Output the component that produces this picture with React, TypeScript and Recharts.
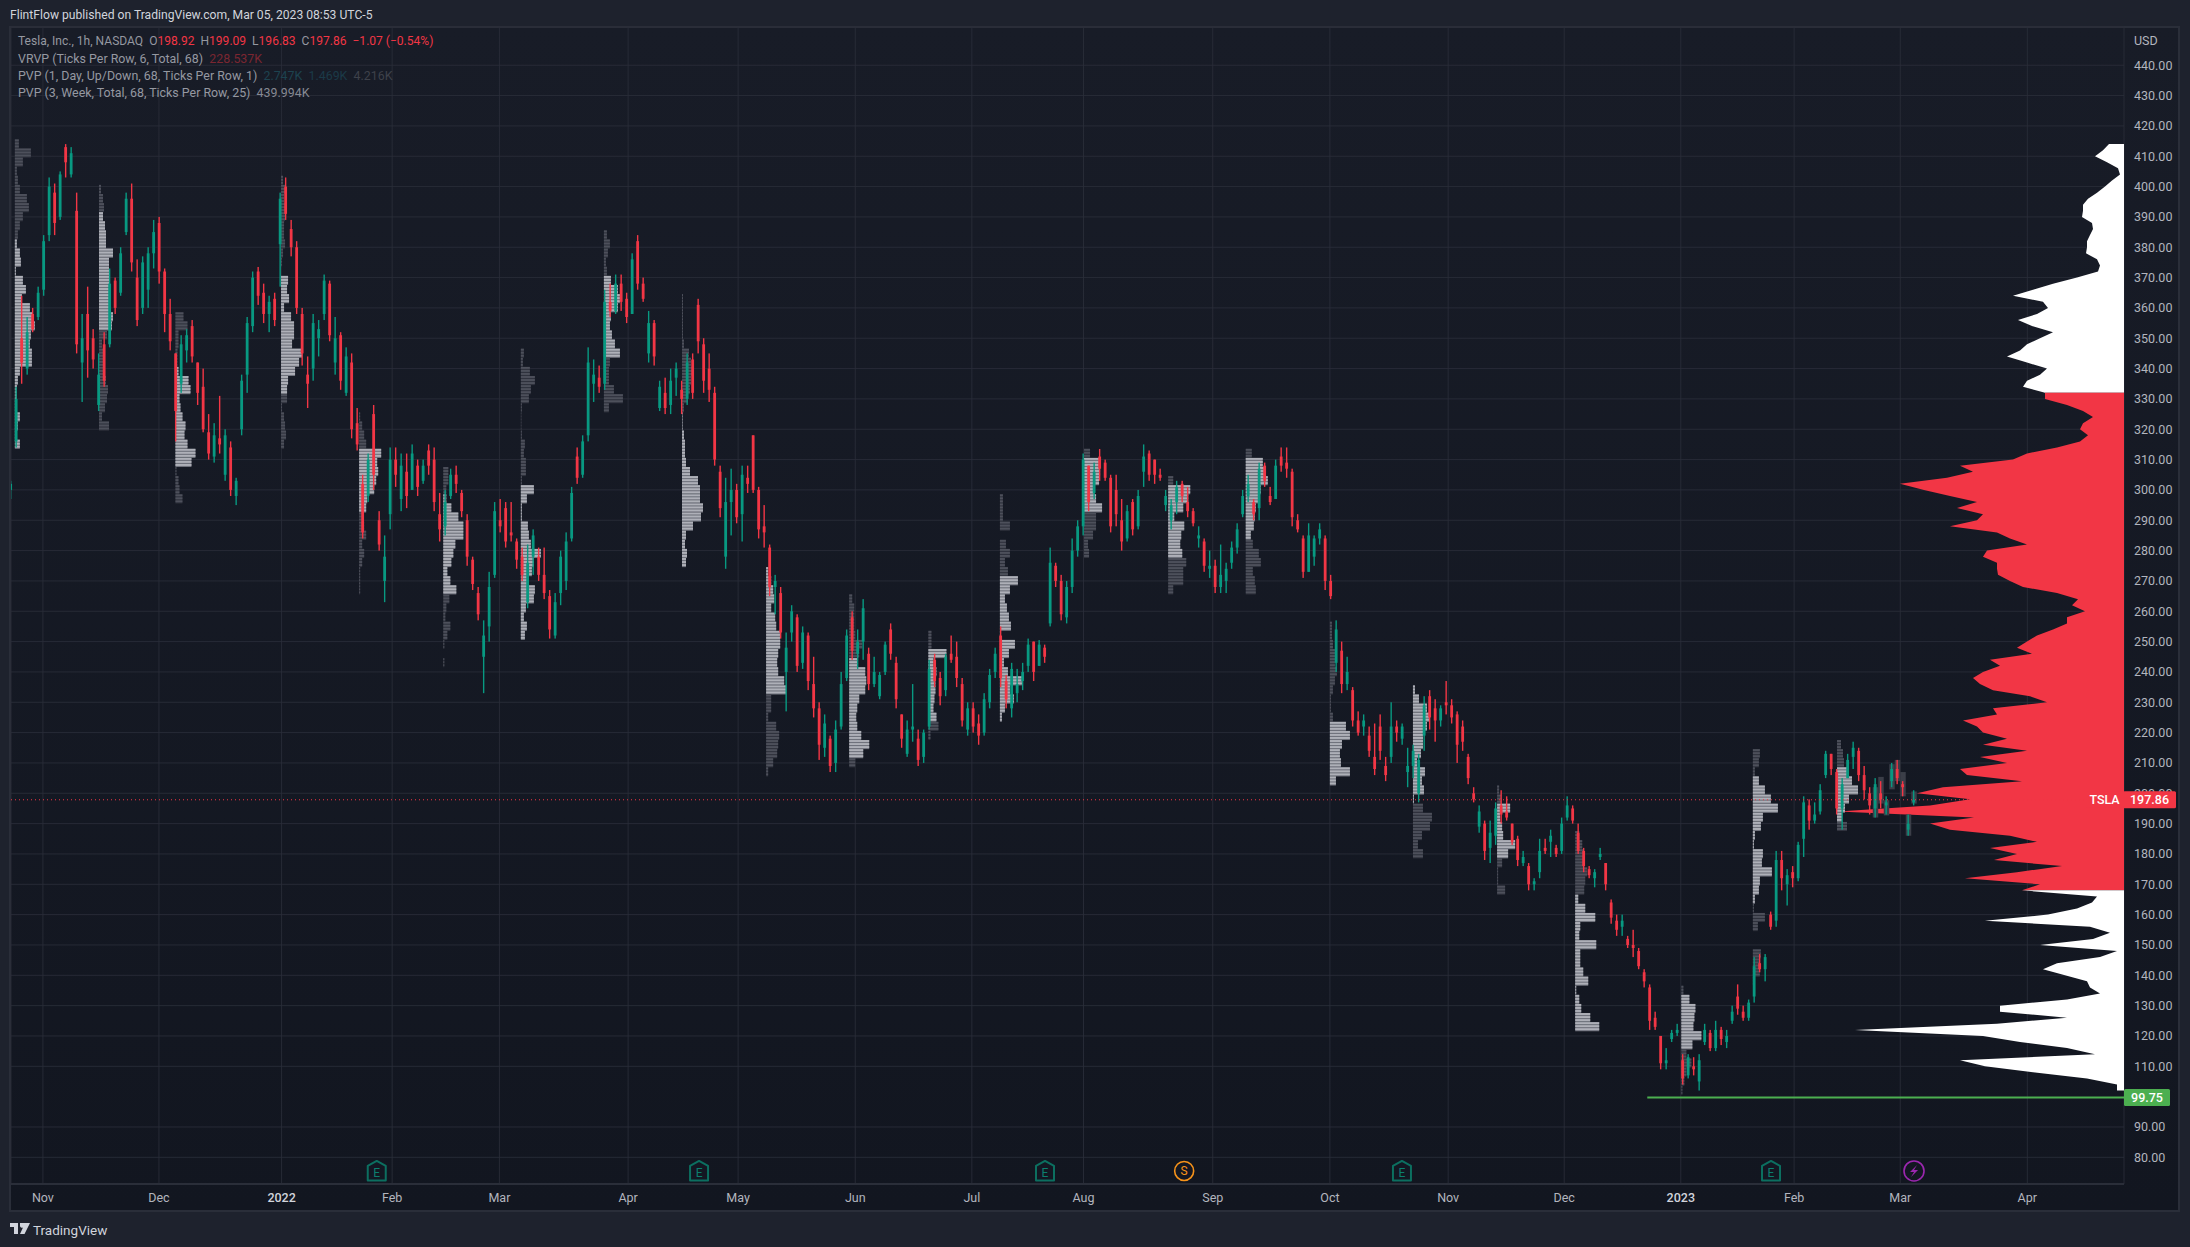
// App.tsx - TSLA 1h chart with volume profiles
import React from 'react';
import {
  ComposedChart,
  Bar,
  Area,
  XAxis,
  YAxis,
  CartesianGrid,
  ReferenceLine,
  ReferenceDot,
} from 'recharts';

const WIDTH = 2190;
const HEIGHT = 1247;
const PLOT_MARGIN = { top: 27, left: 11, right: 66, bottom: 63 };
const PRICE_DOMAIN: [number, number] = [71.2, 452.6];
const SESSION_DOMAIN: [number, number] = [0, 384.18];
const PX_PER_SESSION = 5.5;
const PVP_ROW_PX = 9.1;

const priceTicks = [80, 90, 110, 120, 130, 140, 150, 160, 170, 180, 190, 200, 210, 220, 230, 240, 250, 260, 270, 280, 290, 300, 310, 320, 330, 340, 350, 360, 370, 380, 390, 400, 410, 420, 430, 440];
const monthTicks = [5.8, 26.9, 49.2, 69.3, 88.8, 112.2, 132.2, 153.5, 174.7, 195, 218.5, 239.8, 261.3, 282.4, 303.6, 324.2, 343.5, 366.6];
const monthLabels = ['Nov', 'Dec', '2022', 'Feb', 'Mar', 'Apr', 'May', 'Jun', 'Jul', 'Aug', 'Sep', 'Oct', 'Nov', 'Dec', '2023', 'Feb', 'Mar', 'Apr'];

const opens = [
  300, 316, 350, 340, 358, 357, 366, 384, 398, 390,
  413, 404, 392, 342, 358, 350, 328, 348, 348, 369,
  365, 385, 396, 370, 360, 366, 378, 388, 372, 358,
  345, 335, 346, 354, 342, 334, 319, 311, 317, 305,
  314, 298, 320, 338, 354, 372, 365, 358, 363, 381,
  400, 386, 380, 358, 338, 340, 350, 358, 368, 342,
  351, 332, 342, 322, 302, 298, 325, 290, 270, 292,
  310, 297, 306, 300, 308, 303, 313, 310, 292, 288,
  298, 305, 299, 290, 277, 266, 245, 255, 272, 290,
  294, 286, 283, 278, 263, 278, 278, 272, 265, 252,
  266, 270, 284, 311, 305, 318, 335, 337, 335, 362,
  359, 368, 363, 358, 382, 368, 345, 355, 327, 332,
  328, 337, 333, 330, 343, 361, 348, 340, 332, 306,
  278, 296, 300, 292, 304, 318, 300, 288, 281, 268,
  266, 240, 253, 258, 243, 252, 236, 228, 215, 218,
  210, 222, 238, 258, 246, 250, 246, 236, 232, 240,
  254, 243, 226, 213, 221, 218, 212, 222, 244, 238,
  234, 246, 245, 236, 221, 228, 223, 220, 230, 240,
  252, 237, 228, 233, 237, 242, 250, 242, 248, 256,
  275, 270, 258, 268, 280, 288, 308, 299, 311, 309,
  304, 300, 290, 284, 296, 288, 306, 312, 310, 305,
  295, 290, 296, 302, 296, 293, 284, 283, 274, 275,
  268, 270, 276, 281, 292, 298, 296, 294, 308, 298,
  297, 311, 309, 306, 290, 284, 273, 278, 284, 284,
  270, 243, 247, 236, 234, 224, 222, 219, 212, 222,
  209, 212, 222, 218, 207, 209, 200, 219, 232, 228,
  224, 230, 229, 226, 222, 212, 200, 189, 190, 182,
  186, 196, 194, 190, 185, 177, 176, 170, 174, 182,
  184, 182, 181, 192, 195, 187, 181, 175, 172, 179,
  177, 164, 158, 156, 152, 150, 148, 141, 136, 126,
  120, 111, 119, 121, 112, 107, 110, 105, 118, 121,
  116, 122, 118, 125, 133, 128, 126, 133, 144, 142,
  160, 158, 178, 170, 174, 172, 185, 196, 191, 194,
  206, 213, 207, 195, 205, 212, 214, 206, 200, 195,
  200, 196, 204, 208, 203, 188, 197,
];
const highs = [
  303, 334, 364, 357, 360, 367, 384, 403, 401, 405,
  414, 413, 398, 358, 367, 353, 345, 352, 373, 370,
  380, 398, 401, 376, 377, 380, 389, 390, 373, 363,
  345, 351, 353, 356, 342, 340, 325, 322, 331, 320,
  316, 304, 338, 357, 372, 373.5, 368, 364, 365, 398,
  403, 389, 382, 360, 344, 358, 356, 371, 369, 357,
  352, 347, 345, 327, 305, 312, 328, 293, 285, 314,
  314, 312, 312, 315, 310, 310, 315, 314, 299, 300,
  307, 308, 300, 292, 278, 268, 257, 273, 296, 297,
  296, 296, 284, 281, 282, 287, 281, 281, 267, 266,
  280, 286, 301, 314, 318, 347, 343, 341, 366, 368,
  371, 371, 365, 378, 384, 370, 359, 356, 336, 337,
  340, 342, 336, 345, 345, 363, 350, 345, 334, 308,
  304, 307, 302, 308, 308, 318, 301, 295, 282, 272,
  268, 253, 262, 259, 255, 253, 245, 230, 226, 219,
  224, 240, 254, 260, 254, 264, 248, 245, 240, 250,
  256, 245, 226, 224, 236, 221, 221, 244, 246, 240,
  246, 252, 250, 238, 230, 230, 226, 233, 241, 248,
  255, 239, 243, 241, 243, 251, 250, 250.5, 249, 281,
  276, 272, 270, 284, 290, 312, 308, 309, 313.5, 310,
  305, 305, 297, 295, 297, 300, 315, 313, 310, 307,
  300, 297, 303, 303, 301, 294, 288, 284, 280, 277,
  282, 276, 283, 289, 300, 305, 297, 309, 309, 301,
  310, 314, 314, 307, 292, 285, 289, 285, 289, 285,
  272, 257, 250, 245, 235, 227, 226, 222, 223, 226,
  212, 230, 224, 223, 215, 216, 213, 232, 234, 231,
  229, 237, 231, 227, 224, 213, 202, 196, 191, 191,
  197, 201, 199, 190, 186, 181, 177, 172, 185, 185,
  188, 183, 192, 199, 196, 190, 182, 176, 175, 182,
  177, 165, 160, 160, 153, 155, 149, 142, 137, 128,
  120, 116, 122, 124, 114, 114, 113, 114, 124, 122,
  125, 123, 122, 130, 137, 130, 132, 146, 147, 147,
  161, 181, 181, 175, 176, 184, 199, 198, 197, 203,
  214, 213, 208, 205, 213, 217, 215, 209, 202, 205,
  204, 199, 210, 211, 204, 193, 201,
];
const lows = [
  297, 314, 335, 338, 352, 356, 364, 382, 384, 389,
  403, 403, 345, 329, 337, 340, 326, 334, 347, 358,
  364, 384, 372, 354, 358, 360, 373, 368, 352, 346,
  316, 332, 342, 342, 328, 319, 310, 309, 312, 303,
  298, 295, 318, 332, 352, 361, 355, 352, 354, 367,
  389, 377, 358, 341, 327, 336, 344, 356, 349, 338,
  333, 331, 317, 313, 284, 296, 300, 280, 263, 287,
  301, 293, 294, 300, 298, 302, 305, 293, 283, 285,
  297, 299, 291, 275, 267, 257, 233, 250, 271, 286,
  281, 283, 274, 270, 261, 272, 270, 264, 251, 251,
  262, 267, 283, 302, 304, 316, 329, 332, 333, 357,
  358, 359, 355, 358, 366, 362, 342, 341, 326, 325,
  325, 331, 325, 328, 330, 345, 332, 329, 308, 291,
  274, 285, 289, 283, 299, 299, 284, 281, 265, 259,
  251, 227, 250, 240, 241, 234, 225, 211, 212, 207,
  207, 221, 237, 244, 241, 244, 234, 235, 231, 239,
  244, 228, 215, 212, 217, 209, 210, 221, 235, 229,
  232, 243, 235, 222, 219, 220, 216, 219, 228, 238,
  235, 228, 225, 230, 234, 240, 237, 242, 243, 255,
  268, 257, 256, 266, 278, 285, 293, 297, 303, 303,
  286, 288, 280, 283, 285, 287, 301, 303, 302, 303,
  293, 287, 292, 296, 291, 288, 281, 273, 271, 266,
  266, 266, 274, 279, 291, 296, 290, 290, 301, 295,
  297, 306, 304, 288, 286, 271, 273, 275, 282, 267,
  264, 240, 233, 234, 222, 219, 219, 212, 206, 211,
  204, 210, 217, 216, 202, 205, 197, 214, 221, 217,
  222, 226, 223, 210, 214, 203, 197, 187, 178, 177,
  183, 190, 191, 183, 176, 176, 168, 168, 172, 180,
  179, 179, 180, 191, 190, 180, 174, 172, 169, 178,
  168, 157, 153, 153, 149, 146, 142, 136, 122, 122,
  109, 109, 118, 120, 104, 106, 107, 102, 117, 115,
  115, 117, 116, 124, 127, 125, 125, 131, 141, 138,
  155, 156, 168, 163, 169, 171, 179, 188, 190, 193,
  205, 206, 193, 188, 205, 208, 204, 198, 193, 192,
  195, 193, 202, 203, 199, 186, 196,
];
const closes = [
  302, 330, 342, 352, 353, 365, 382, 400, 388, 404,
  408, 411, 348, 350, 346, 343, 338, 336, 368, 360,
  378, 396, 375, 356, 375, 378, 385, 372, 358, 349,
  326, 348, 351, 344, 332, 320, 312, 318, 315, 318,
  300, 303, 336, 355, 370, 364, 358, 362, 356, 396,
  391, 380, 360, 345, 335, 355, 353, 369, 351, 350,
  336, 344, 320, 315, 286, 310, 305, 282, 278, 310,
  305, 308, 298, 312, 301, 308, 308, 296, 287, 296,
  305, 302, 293, 278, 269, 259, 252, 268, 293, 288,
  283, 285, 277, 272, 276, 285, 272, 266, 254, 263,
  278, 283, 299, 304, 316, 342, 338, 334, 362, 359,
  368, 362, 357, 376, 368, 363, 355, 344, 334, 327,
  336, 340, 330, 342, 332, 349, 336, 333, 310, 294,
  296, 300, 291, 305, 302, 300, 287, 286, 268, 270,
  253, 248, 260, 242, 253, 237, 228, 216, 223, 209,
  221, 236, 252, 247, 250, 261, 236, 240, 239, 249,
  246, 231, 218, 221, 222, 211, 220, 241, 237, 232,
  245, 244, 238, 224, 228, 222, 219, 231, 239, 246,
  238, 231, 241, 236, 240, 249, 240, 249, 245, 276,
  270, 259, 268, 280, 288, 310, 296, 306, 307, 304,
  288, 292, 283, 293, 287, 298, 311, 305, 305, 304,
  298, 295, 301, 298, 293, 289, 285, 275, 275, 268,
  272, 274, 281, 287, 298, 302, 292, 307, 303, 296,
  308, 308, 307, 291, 287, 273, 285, 284, 287, 270,
  265, 254, 236, 240, 224, 220, 224, 214, 208, 214,
  206, 222, 220, 222, 209, 214, 211, 229, 225, 224,
  228, 229, 225, 216, 217, 205, 198, 194, 181, 187,
  195, 193, 192, 184, 178, 179, 170, 171, 181, 181,
  186, 180, 190, 196, 191, 181, 176, 173, 174, 180,
  170, 159, 155, 158, 150, 149, 143, 138, 125, 123,
  111, 112, 121, 122, 106, 113, 109, 112, 122, 116,
  122, 119, 120, 128, 129, 126, 131, 143, 142, 146,
  156, 178, 172, 173, 172, 183, 197, 191, 193, 201,
  213, 208, 195, 203, 211, 215, 206, 201, 196, 203,
  198, 197, 208, 205, 202, 190, 197.86,
];

// last few day profiles, the grey boxes behind the newest candles
const dayBoxSessions = [339, 340, 341, 342, 343, 344, 345, 346];
const dayBoxLows = [192, 196.6, 192.7, 201.3, 204, 199, 186, 196.6];
const dayBoxHighs = [202, 205.4, 197.7, 209.6, 211, 207, 193, 200.6];

// 3 week PVP profiles: start session, top row, value area, row widths (px) every $3
const pvpStarts = [0.7, 16, 29.9, 49.1, 63.3, 78.6, 92.7, 107.8, 122, 137.3, 152.4, 166.8, 179.8, 195.1, 210.4, 224.5, 239.8, 254.9, 270.2, 284.4, 303.7, 316.7, 316.7, 332];
const pvpTops = [414, 399, 357, 402, 324, 306, 345, 384, 363, 273, 264, 252, 297, 312, 303, 312, 255, 234, 201, 186, 135, 213, 147, 216];
const pvpValueHighs = [383, 391, 340, 371, 314, 298, 302, 371, 326, 273, 244, 247, 270, 310, 301, 310, 223, 234, 197, 165, 134, 205, 0, 208];
const pvpValueLows = [314, 352, 309, 331, 294, 267, 250, 344, 275, 232, 212, 224, 225, 292, 277, 284, 204, 197, 178, 123, 116, 163, 0, 191];
const pvpWidths = [
  [4, 16, 8, 2, 3, 5, 12, 14, 8, 5, 3, 2, 5, 6, 1, 8, 11, 7, 15, 18, 20, 16, 15, 17, 17, 5, 3, 2, 2, 2, 5, 3, 2, 5],
  [2, 4, 5, 4, 6, 7, 7, 14, 10, 10, 11, 12, 12, 12, 14, 13, 8, 3, 4, 6, 6, 7, 9, 8, 6, 3, 10],
  [8, 12, 3, 3, 2, 2, 3, 13, 15, 4, 5, 7, 10, 9, 12, 20, 16, 1, 3, 4, 7],
  [2, 5, 3, 5, 4, 3, 3, 4, 2, 1, 0, 7, 6, 8, 3, 10, 13, 13, 11, 21, 18, 14, 7, 6, 6, 1, 3, 4, 5, 3],
  [1, 3, 5, 7, 22, 18, 19, 17, 15, 8, 7, 3, 5, 7, 3, 5, 3, 1, 1, 1],
  [5, 5, 3, 3, 8, 15, 20, 20, 12, 10, 8, 4, 7, 13, 6, 3, 2, 7, 4, 1, 0, 1],
  [3, 2, 9, 14, 10, 8, 1, 0.5, 0.5, 1, 4, 3, 5, 5, 1, 13, 6, 1, 1, 7, 8, 10, 20, 13, 11, 8, 14, 13, 5, 3, 6, 4],
  [3, 6, 4, 2, 3, 7, 14, 16, 14, 7, 6, 8, 11, 16, 6, 5, 5, 10, 19, 5],
  [1, 1, 1, 1, 1, 2, 7, 9, 11, 9, 8, 6, 2, 0.5, 0.5, 2, 3, 3, 4, 8, 16, 18, 18, 21, 19, 11, 4, 3, 5, 4],
  [2, 5, 7, 8, 5, 9, 10, 14, 14, 12, 11, 12, 18, 20, 5, 5, 2, 10, 13, 12, 11, 7, 2],
  [3, 5, 5, 5, 6, 13, 10, 8, 16, 17, 16, 10, 8, 7, 8, 12, 20, 14, 6],
  [3, 3, 18, 5, 8, 7, 7, 6, 5, 8, 10, 2],
  [3, 3, 3, 10, 0, 6, 10, 5, 8, 18, 10, 5, 7, 9, 11, 0.5, 15, 9, 4, 8, 22, 10, 14, 5, 2],
  [6, 15, 16, 15, 10, 12, 18, 12, 12, 9, 4, 5],
  [5, 22, 20, 15, 6, 16, 13, 12, 14, 18, 15, 15, 5],
  [6, 17, 20, 22, 15, 14, 10, 9, 8, 5, 7, 13, 15, 7, 9, 10],
  [2, 2, 3, 5, 5, 7, 5, 3, 1, 1, 3, 16, 20, 12, 10, 11, 20, 6],
  [2, 6, 14, 16, 14, 10, 10, 8, 4, 12, 9, 11, 1, 10, 19, 17, 9, 5, 10],
  [2, 4, 13, 3, 5, 6, 18, 11, 5, 1, 1, 8],
  [4, 7, 8, 9, 12, 10, 9, 3, 10, 20, 5, 4, 21, 5, 5, 8, 13, 1, 4, 6, 15, 24],
  [2, 8, 14, 13, 12, 20, 11, 5, 10, 5, 3, 1],
  [7, 6, 2, 6, 12, 18, 25, 10, 8, 2, 1, 10, 9, 19, 7, 6, 2, 1, 12, 5],
  [8, 7, 7, 2],
  [4, 6, 7, 10, 15, 21, 12, 8, 5, 10],
];

// VRVP row widths (px from the right edge), one row every $2 from $414 down
const vrvpTop = 414;
const vrvpWidths = [
  15, 21, 29, 17, 6, 4, 12, 19, 27, 36, 41, 41, 42, 32, 31, 34, 37, 37, 38, 27, 24, 26,
  47, 71, 91, 111, 81, 76, 87, 106, 92, 71, 84, 97, 104, 117, 97, 77, 84, 97, 101, 79,
  79, 57, 41, 31, 41, 44, 36, 44, 67, 97, 111, 164, 151, 177, 224, 200, 174, 147, 167, 141,
  147, 174, 127, 114, 97, 137, 141, 127, 127, 126, 114, 101, 67, 46, 52, 39, 57, 57, 71, 87,
  97, 107, 92, 134, 124, 141, 151, 144, 131, 94, 77, 131, 127, 161, 147, 141, 117, 141, 97, 144,
  117, 164, 157, 102, 181, 207, 154, 194, 286, 150, 194, 174, 114, 87, 134, 107, 130, 62, 107, 159,
  84, 102, 27, 32, 47, 76, 139, 34, 14, 31, 84, 7, 24, 67, 81, 59, 37, 34, 24, 57,
  124, 124, 57, 127, 269, 141, 104, 57, 29, 164, 139, 91, 37, 7, 7,
];
const vrvpValueHigh = 332.3;
const vrvpValueLow = 167.5;

const GREEN = '#089981';
const RED = '#f23645';
const AXIS_TEXT = '#b2b5be';
const FONT = 'Roboto, sans-serif';

const candles = opens.map((open, i) => {
  const boxIndex = dayBoxSessions.indexOf(i);
  return {
    t: i,
    open,
    high: highs[i],
    low: lows[i],
    close: closes[i],
    box: boxIndex >= 0 ? [dayBoxLows[boxIndex], dayBoxHighs[boxIndex]] : undefined,
  };
});

const pvpRows = pvpStarts.flatMap((start, p) =>
  pvpWidths[p].map((w, r) => {
    const price = pvpTops[p] - r * 3;
    return {
      price,
      range: [start, start + w / PX_PER_SESSION],
      light: price <= pvpValueHighs[p] && price >= pvpValueLows[p],
    };
  }),
);

const vrvpRows = vrvpWidths.map((w, i) => ({
  price: vrvpTop - i * 2,
  range: [SESSION_DOMAIN[1], SESSION_DOMAIN[1] - w / PX_PER_SESSION],
}));
const vrvpUpper = vrvpRows.filter((r) => r.price >= vrvpValueHigh - 0.4);
const vrvpValue = vrvpRows.filter((r) => r.price <= vrvpValueHigh + 0.4 && r.price >= vrvpValueLow - 0.6);
const vrvpLower = vrvpRows.filter((r) => r.price <= vrvpValueLow + 0.6);

const CandleShape = (props: any) => {
  const { x, y, width, height, payload } = props;
  const { open, close, high, low } = payload;
  const perPrice = height / (high - low);
  const color = close >= open ? GREEN : RED;
  const bodyTop = y + (high - Math.max(open, close)) * perPrice;
  const bodyH = Math.max(Math.abs(open - close) * perPrice, 1.5);
  return (
    <g>
      <rect x={x + width / 2 - 0.7} y={y} width={1.4} height={height} fill={color} />
      <rect x={x} y={bodyTop} width={width} height={bodyH} fill={color} />
    </g>
  );
};

const PvpShape = (props: any) => {
  const { x, y, width, height, payload } = props;
  if (!width) return null;
  const fill = payload.light ? '#aeb0b8' : '#4d505b';
  const top = y + height / 2 - PVP_ROW_PX / 2;
  const stripe = PVP_ROW_PX / 3;
  return (
    <g>
      <rect x={x} y={top} width={width} height={PVP_ROW_PX} fill={payload.light ? '#6f727c' : '#2f323d'} />
      {[0, 1, 2].map((k) => (
        <rect key={k} x={x} y={top + k * stripe} width={width} height={stripe - 1.1} fill={fill} />
      ))}
    </g>
  );
};

const MonthTick = (props: any) => {
  const { x, y, index } = props;
  const label = monthLabels[index];
  const isYear = label === '2022' || label === '2023';
  return (
    <text x={x} y={y + 10} textAnchor="middle" fontFamily={FONT} fontSize={12.5} fontWeight={isYear ? 500 : 400} fill={isYear ? '#d1d4dc' : AXIS_TEXT}>
      {label}
    </text>
  );
};

const EarningsIcon = ({ cx, cy }: any) => (
  <g>
    <path d={`M${cx - 9},${cy - 5} L${cx},${cy - 10} L${cx + 9},${cy - 5} L${cx + 9},${cy + 9.5} L${cx - 9},${cy + 9.5} Z`} fill="#131722" stroke="#0c6f60" strokeWidth={2} strokeLinejoin="round" />
    <text x={cx} y={cy + 6} textAnchor="middle" fontFamily={FONT} fontSize={12} fill="#0c7f6e">E</text>
  </g>
);

const DividendIcon = ({ cx, cy }: any) => (
  <g>
    <circle cx={cx} cy={cy} r={9.5} fill="#131722" stroke="#f7931a" strokeWidth={1.6} />
    <text x={cx} y={cy + 4.5} textAnchor="middle" fontFamily={FONT} fontSize={12} fill="#f7931a">S</text>
  </g>
);

const SplashIcon = ({ cx, cy }: any) => (
  <g>
    <circle cx={cx} cy={cy} r={10} fill="#131722" stroke="#9c27b0" strokeWidth={1.6} />
    <path d={`M${cx + 3},${cy - 6} L${cx - 4},${cy + 1} L${cx},${cy + 1} L${cx - 3},${cy + 6} L${cx + 4},${cy - 1} L${cx},${cy - 1} Z`} fill="#9c27b0" />
  </g>
);

const LastPriceChip = ({ cx, cy }: any) => (
  <g fontFamily={FONT} fontSize={12.5} fill="#ffffff">
    <rect x={cx - 38} y={cy - 8} width={37} height={16} fill={RED} opacity={0.92} />
    <text x={cx - 19.5} y={cy + 4.5} textAnchor="middle" fontWeight={500}>TSLA</text>
    <rect x={cx - 1} y={cy - 8.5} width={53} height={17} rx={1.5} fill={RED} />
    <text x={cx + 25.5} y={cy + 4.5} textAnchor="middle" fontWeight={500}>197.86</text>
  </g>
);

const SupportChip = ({ cx, cy }: any) => (
  <g fontFamily={FONT} fontSize={12.5} fill="#ffffff">
    <rect x={cx} y={cy - 8.5} width={46} height={17} rx={1.5} fill="#4caf50" />
    <text x={cx + 23} y={cy + 4.5} textAnchor="middle" fontWeight={500}>99.75</text>
  </g>
);

const earningsSessions = [66.5, 125.1, 188, 252.9, 320];
const iconPrice = 75.5;

const legendLine: React.CSSProperties = {
  position: 'absolute',
  left: 18,
  fontFamily: FONT,
  fontSize: 12.05,
  lineHeight: '17px',
  whiteSpace: 'pre',
  color: '#9598a1',
};
const legendLineWide: React.CSSProperties = { ...legendLine, fontSize: 12.4 };

const App = () => (
  <div style={{ position: 'fixed', left: 0, top: 0, width: WIDTH, height: HEIGHT, background: '#1e222d', overflow: 'hidden' }}>
    <div style={{ position: 'absolute', left: 9, top: 26, width: 2171, height: 1186, boxSizing: 'border-box', border: '2px solid #2a2e39', background: 'linear-gradient(#181c27, #121620)' }} />

    <div style={{ position: 'absolute', left: 0, top: 0 }}>
      <ComposedChart width={WIDTH} height={HEIGHT} data={pvpRows} layout="vertical" margin={{ top: PLOT_MARGIN.top, left: PLOT_MARGIN.left, right: 10, bottom: 35 }}>
        <CartesianGrid stroke="#2a2e39" strokeOpacity={0.85} />
        <XAxis type="number" domain={SESSION_DOMAIN} ticks={monthTicks} interval={0} height={28} allowDataOverflow tick={<MonthTick />} tickLine={false} axisLine={{ stroke: '#2a2e39', strokeWidth: 2 }} />
        <YAxis type="number" dataKey="price" orientation="right" reversed domain={PRICE_DOMAIN} ticks={priceTicks} interval={0} width={56} allowDataOverflow tickFormatter={(v: number) => v.toFixed(2)} tick={{ fill: AXIS_TEXT, fontSize: 12.5, fontFamily: FONT }} tickLine={false} axisLine={false} tickMargin={4} />
        <Bar dataKey="range" barSize={9.1} shape={<PvpShape />} isAnimationActive={false} />
        <Area data={vrvpUpper} dataKey="range" type="linear" stroke="none" fill="#ffffff" fillOpacity={1} dot={false} activeDot={false} isAnimationActive={false} />
        <Area data={vrvpValue} dataKey="range" type="linear" stroke="none" fill={RED} fillOpacity={1} dot={false} activeDot={false} isAnimationActive={false} />
        <Area data={vrvpLower} dataKey="range" type="linear" stroke="none" fill="#ffffff" fillOpacity={1} dot={false} activeDot={false} isAnimationActive={false} />
      </ComposedChart>
    </div>

    <div style={{ position: 'absolute', left: 0, top: 0 }}>
      <ComposedChart width={WIDTH} height={HEIGHT} data={candles} margin={PLOT_MARGIN}>
        <XAxis type="number" dataKey="t" domain={SESSION_DOMAIN} ticks={monthTicks} hide allowDataOverflow />
        <XAxis xAxisId="box" type="number" dataKey="t" domain={SESSION_DOMAIN} ticks={monthTicks} hide allowDataOverflow />
        <YAxis type="number" domain={PRICE_DOMAIN} ticks={priceTicks} hide allowDataOverflow />
        <Bar xAxisId="box" dataKey="box" barSize={5.5} fill="#3b3e48" isAnimationActive={false} />
        <Bar dataKey={(d: any) => [d.low, d.high]} barSize={2.8} shape={<CandleShape />} isAnimationActive={false} />
        <ReferenceLine y={197.86} stroke={RED} strokeDasharray="1 3" segment={[{ x: 0, y: 197.86 }, { x: 356, y: 197.86 }]} />
        <ReferenceLine stroke="#4caf50" strokeWidth={2} segment={[{ x: 297.5, y: 99.75 }, { x: SESSION_DOMAIN[1], y: 99.75 }]} />
        {earningsSessions.map((t) => (
          <ReferenceDot key={t} x={t} y={iconPrice} r={0} shape={<EarningsIcon />} />
        ))}
        <ReferenceDot x={213.3} y={iconPrice} r={0} shape={<DividendIcon />} />
        <ReferenceDot x={346} y={iconPrice} r={0} shape={<SplashIcon />} />
        <ReferenceDot x={SESSION_DOMAIN[1]} y={197.86} r={0} ifOverflow="visible" shape={<LastPriceChip />} />
        <ReferenceDot x={SESSION_DOMAIN[1]} y={99.75} r={0} ifOverflow="visible" shape={<SupportChip />} />
      </ComposedChart>
    </div>

    <div style={{ position: 'absolute', left: 10, top: 7, fontFamily: FONT, fontSize: 12.15, lineHeight: '16px', color: '#d1d4dc', whiteSpace: 'pre' }}>
      FlintFlow published on TradingView.com, Mar 05, 2023 08:53 UTC-5
    </div>
    <div style={{ ...legendLine, top: 33 }}>
      Tesla, Inc., 1h, NASDAQ{'  '}O<span style={{ color: RED }}>198.92</span>{'  '}H<span style={{ color: RED }}>199.09</span>{'  '}L<span style={{ color: RED }}>196.83</span>{'  '}C<span style={{ color: RED }}>197.86</span>{'  '}<span style={{ color: RED }}>−1.07 (−0.54%)</span>
    </div>
    <div style={{ ...legendLineWide, top: 50 }}>
      VRVP (Ticks Per Row, 6, Total, 68){'  '}<span style={{ color: '#7b2631' }}>228.537K</span>
    </div>
    <div style={{ ...legendLineWide, top: 67 }}>
      PVP (1, Day, Up/Down, 68, Ticks Per Row, 1){'  '}<span style={{ color: '#1d4350' }}>2.747K</span>{'  '}<span style={{ color: '#1b3a48' }}>1.469K</span>{'  '}<span style={{ color: '#3e414a' }}>4.216K</span>
    </div>
    <div style={{ ...legendLineWide, top: 84 }}>
      PVP (3, Week, Total, 68, Ticks Per Row, 25){'  '}<span style={{ color: '#868993' }}>439.994K</span>
    </div>
    <div style={{ position: 'absolute', left: 2134, top: 33, fontFamily: FONT, fontSize: 12.5, lineHeight: '16px', color: AXIS_TEXT }}>USD</div>

    <svg style={{ position: 'absolute', left: 10, top: 1223 }} width={20} height={12} viewBox="0 0 20 12">
      <path d="M0 0 H8 V11 H4 V4 H0 Z M10 0 H20 L14.5 11 H10 L13 4.5 A2 2 0 0 1 10 3 Z" fill="#d1d4dc" />
    </svg>
    <div style={{ position: 'absolute', left: 33, top: 1221, fontFamily: FONT, fontSize: 13.5, lineHeight: '18px', color: '#d1d4dc' }}>TradingView</div>
  </div>
);

export default App;
